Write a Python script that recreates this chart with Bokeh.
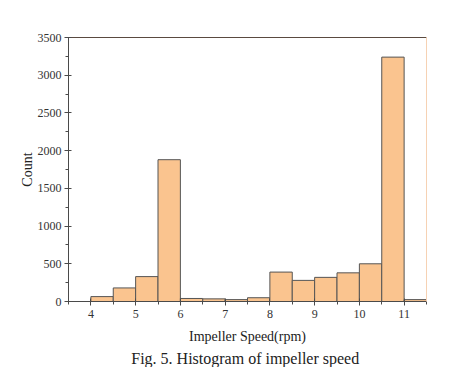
from bokeh.plotting import figure
from bokeh.layouts import column
from bokeh.models import LinearAxis, Range1d, FixedTicker, ColumnDataSource
from bokeh.core.properties import value
from bokeh.embed import file_html
from bokeh.resources import INLINE

bin_left = [4.0, 4.5, 5.0, 5.5, 6.0, 6.5, 7.0, 7.5, 8.0, 8.5, 9.0, 9.5, 10.0, 10.5, 11.0]
bin_right = [4.5, 5.0, 5.5, 6.0, 6.5, 7.0, 7.5, 8.0, 8.5, 9.0, 9.5, 10.0, 10.5, 11.0, 11.5]
counts = [65, 180, 330, 1880, 40, 35, 25, 50, 390, 280, 320, 380, 500, 3240, 25]
x_ticks = [4, 5, 6, 7, 8, 9, 10, 11]
y_ticks = [0, 500, 1000, 1500, 2000, 2500, 3000, 3500]
caption = "Fig. 5. Histogram of impeller speed"

FONT = "Liberation Serif"
DARK = "#4a4a4a"

src = ColumnDataSource(dict(left=bin_left, right=bin_right, top=counts, bottom=[0] * len(counts)))

p = figure(width=474, height=348, output_backend="svg", toolbar_location=None,
           x_range=Range1d(3.5, 11.5), y_range=Range1d(0, 3500),
           min_border_left=68, min_border_right=48, min_border_top=37, min_border_bottom=47)
p.quad(left="left", right="right", top="top", bottom="bottom", source=src,
       fill_color="#FAC48F", line_color="#555555", line_width=1)

p.grid.visible = False
p.outline_line_color = None
p.background_fill_color = "white"
p.border_fill_color = "white"

xa = p.xaxis[0]
xa.ticker = FixedTicker(ticks=x_ticks, minor_ticks=[4.5 + i for i in range(-1, 8)])
xa.axis_label = "Impeller Speed(rpm)"
ya = p.yaxis[0]
ya.ticker = FixedTicker(ticks=y_ticks, minor_ticks=[250 + 500 * i for i in range(7)])
ya.axis_label = "Count"

for ax in (xa, ya):
    ax.axis_line_color = DARK
    ax.major_tick_line_color = DARK
    ax.minor_tick_line_color = DARK
    ax.major_tick_in = 3
    ax.major_tick_out = 4
    ax.minor_tick_in = 0
    ax.minor_tick_out = 3
    ax.major_label_text_font = FONT
    ax.major_label_text_font_size = "12px"
    ax.major_label_text_color = "#333333"
    ax.axis_label_text_font = FONT
    ax.axis_label_text_font_size = "14px"
    ax.axis_label_text_font_style = "normal"
    ax.axis_label_text_color = "#222222"
ya.major_label_standoff = 3
ya.axis_label_standoff = 0
xa.major_label_standoff = 4
xa.axis_label_standoff = 8

top_ax = LinearAxis(ticker=FixedTicker(ticks=[]), axis_line_color="#5a4a40",
                    major_tick_line_color=None, minor_tick_line_color=None)
p.add_layout(top_ax, "above")
right_ax = LinearAxis(ticker=FixedTicker(ticks=[]), axis_line_color="#f6d2b4",
                      major_tick_line_color=None, minor_tick_line_color=None)
p.add_layout(right_ax, "right")

c = figure(width=474, height=19, output_backend="svg", toolbar_location=None,
           x_range=Range1d(0, 474), y_range=Range1d(0, 19),
           min_border=0, min_border_left=0, min_border_right=0, min_border_top=0, min_border_bottom=0)
c.axis.visible = False
c.grid.visible = False
c.outline_line_color = None
c.text(x=[234], y=[18], text=[caption], text_font=value(FONT), text_font_size="16px",
       text_color="#222222", text_align="center", text_baseline="top")

layout = column(p, c, spacing=0)
open("out.html", "w").write(file_html(layout, INLINE))
